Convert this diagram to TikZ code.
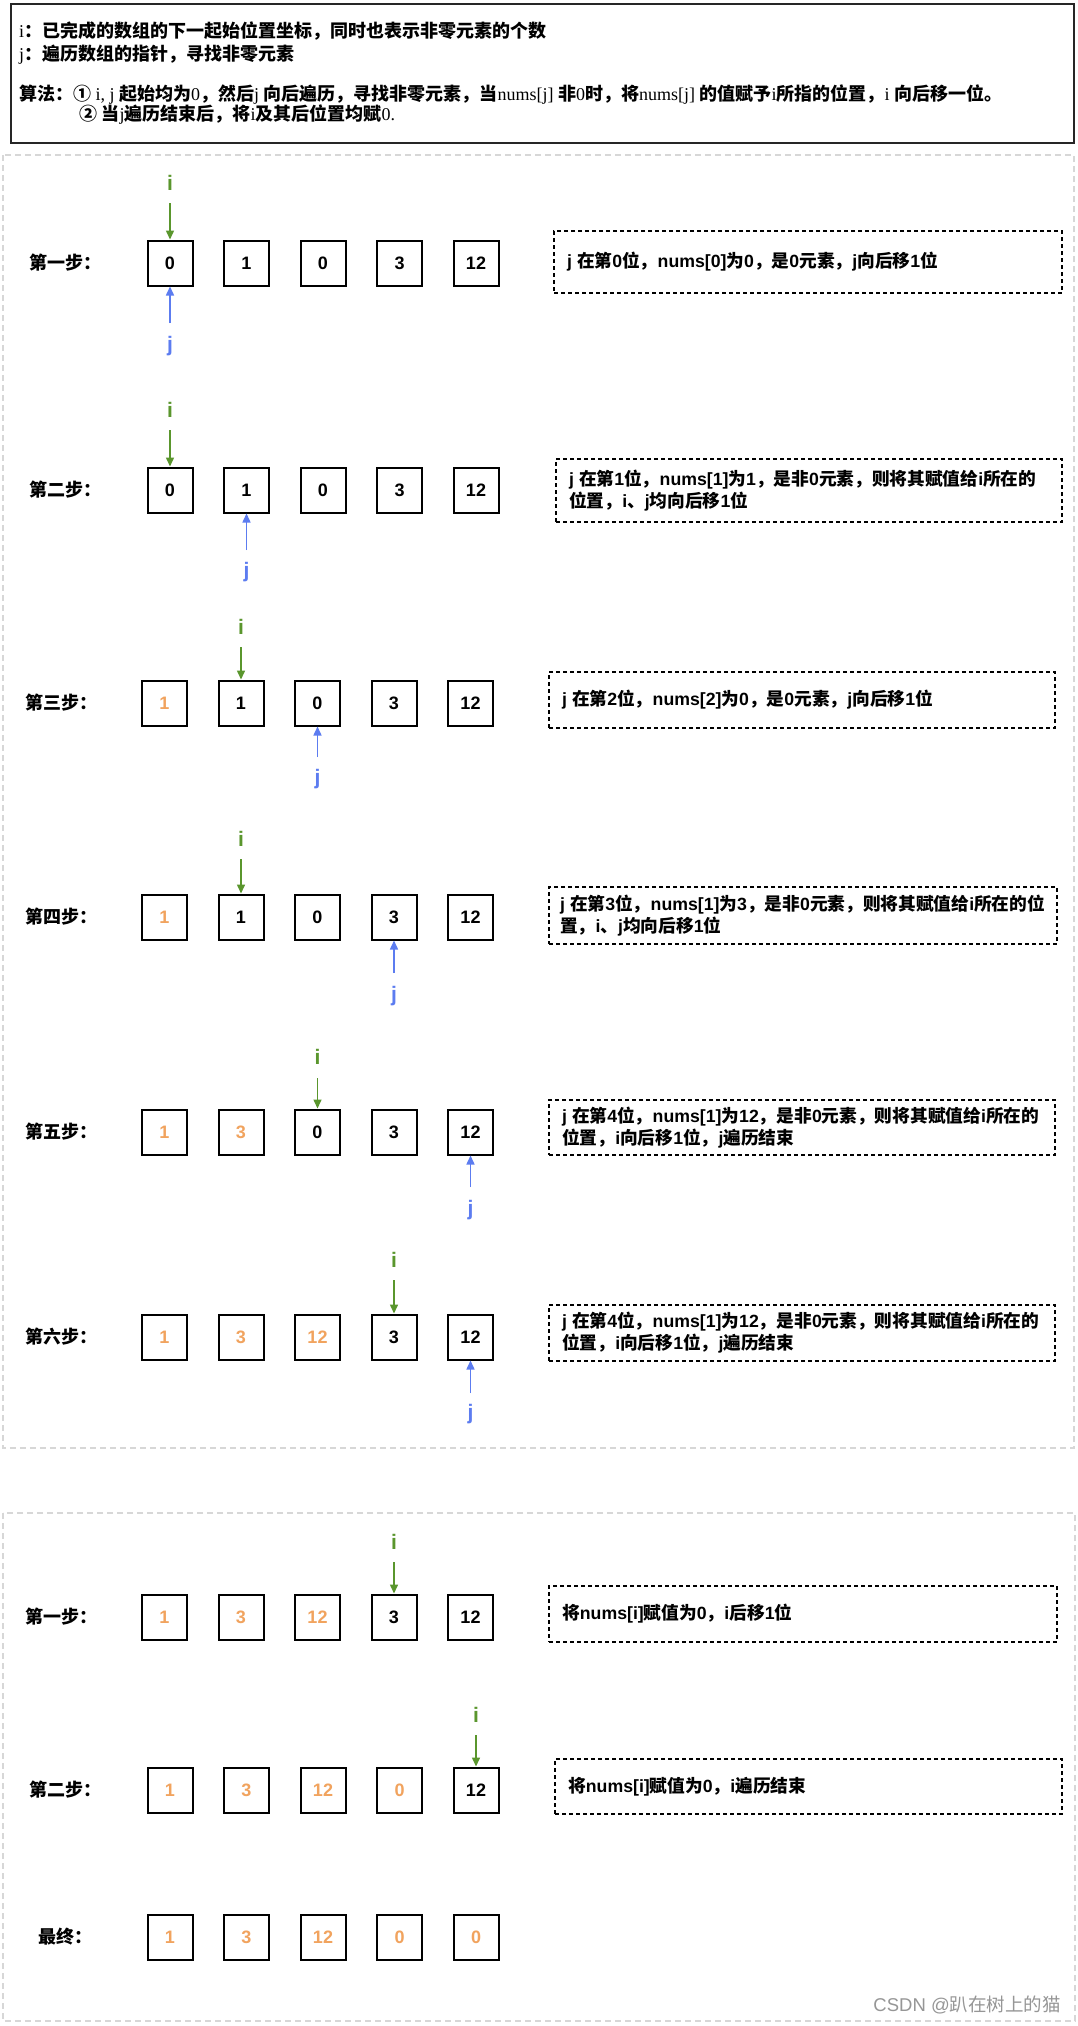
\documentclass[tikz,border=0pt]{standalone}
\usepackage{fontspec}
\setmainfont{Liberation Sans}
\newfontfamily\cjkfam{Noto Sans CJK SC}
\newfontfamily\seriffam{Liberation Serif}
\usetikzlibrary{arrows.meta,calc}
\definecolor{igreen}{RGB}{90,150,45}
\definecolor{jblue}{RGB}{92,124,240}
\definecolor{ora}{RGB}{241,163,94}
\definecolor{contgray}{RGB}{215,215,215}
\definecolor{wmgray}{RGB}{150,150,150}

% automatic font switching between Latin and CJK characters
\XeTeXinterchartokenstate=1
\newXeTeXintercharclass\CJKcls
\newcount\mycc
\mycc="2460 \loop\ifnum\mycc<"2500 \XeTeXcharclass\mycc=\CJKcls \advance\mycc by 1 \repeat
\mycc="3000 \loop\ifnum\mycc<"A000 \XeTeXcharclass\mycc=\CJKcls \advance\mycc by 1 \repeat
\mycc="FF00 \loop\ifnum\mycc<"FFF0 \XeTeXcharclass\mycc=\CJKcls \advance\mycc by 1 \repeat
\newcommand\latinsel{\rmfamily}
\newcommand\cjksel{\cjkfam}
\XeTeXinterchartoks 0 \CJKcls = {\cjksel}
\XeTeXinterchartoks 4095 \CJKcls = {\cjksel}
\XeTeXinterchartoks \CJKcls 0 = {\latinsel}
\XeTeXinterchartoks \CJKcls 4095 = {\latinsel}

\tikzset{
  valbox/.style={draw=black, line width=2pt, minimum width=45pt, minimum height=45pt,
    inner sep=0pt, font=\fontsize{18}{21.6}\selectfont\bfseries},
  ilab/.style={text=igreen, inner sep=0pt, font=\fontsize{21}{25}\selectfont\bfseries},
  jlab/.style={text=jblue, inner sep=0pt, font=\fontsize{21}{25}\selectfont\bfseries},
  iarr/.style={draw=igreen, line width=1.5pt, -{Triangle[length=9pt,width=8pt]}},
  jarr/.style={draw=jblue, line width=1.5pt, -{Triangle[length=9pt,width=8pt]}},
  steplab/.style={inner sep=0pt, font=\fontsize{18}{21.6}\selectfont\bfseries},
  descbox/.style={draw=black, line width=2pt, dash pattern=on 4pt off 3pt,
    anchor=north west, inner sep=0pt},
  desctext/.style={anchor=west, align=left, inner sep=0pt,
    font=\fontsize{17.7}{22}\selectfont\bfseries},
  container/.style={draw=contgray, line width=1.5pt, dash pattern=on 6pt off 4pt},
  topbox/.style={draw=black!85, line width=2pt, anchor=north west, inner sep=0pt},
  topline/.style={anchor=base west, inner sep=0pt,
    font=\fontsize{18}{21.6}\selectfont\seriffam\mdseries\def\latinsel{\seriffam\mdseries}\def\cjksel{\cjkfam\bfseries}},
}

% row of value boxes: name, x of first centre, y, list value/colour
\newcommand\valrow[4]{%
  \foreach \v/\c [count=\k] in {#4} {%
    \node[valbox, text=\c] (#1b\k) at ({#2+(\k-1)*76.5},#3) {\v};%
  }}
% i pointer: row, box index, label offset, arrow start offset
\newcommand\ipt[4]{%
  \node[ilab] (#1il) at ($(#1b#2.center)+(0,#3)$) {i};
  \coordinate (#1is) at ($(#1b#2.center)+(0,#4)$);
  \draw[iarr] (#1is) -- (#1b#2.north);}
\newcommand\jpt[4]{%
  \node[jlab] (#1jl) at ($(#1b#2.center)+(0,#3)$) {j};
  \coordinate (#1js) at ($(#1b#2.center)+(0,#4)$);
  \draw[jarr] (#1js) -- (#1b#2.south);}

\begin{document}
\begin{tikzpicture}[x=1pt,y=-1pt]
\fill[white] (0,0) rectangle (1077,2026);
\useasboundingbox (0,0) rectangle (1077,2026);

% ---- header box ----
\node[topbox, minimum width=1063pt, minimum height=139pt] (top) at (10,3) {};
\node[topline] (t1) at (19,38) {i：已完成的数组的下一起始位置坐标，同时也表示非零元素的个数};
\node[topline] (t2) at (19,60) {j：遍历数组的指针，寻找非零元素};
\node[topline] (t3) at (19,100) {算法：① i, j 起始均为0，然后j 向后遍历，寻找非零元素，当nums[j] 非0时，将nums[j] 的值赋予i所指的位置，i 向后移一位。};
\node[topline] (t4) at (79,120) {② 当j遍历结束后，将i及其后位置均赋0.};

% ---- containers ----
\draw[container] (3,155) rectangle (1074,1448);
\draw[container] (3,1513) rectangle (1075,2021);

% ---- step 1 ----
\node[steplab] (r1s) at (65,263) {第一步：};
\valrow{r1}{170}{263}{0/black,1/black,0/black,3/black,12/black}
\ipt{r1}{1}{-80}{-60}
\jpt{r1}{1}{83}{60}
\node[descbox, minimum width=508pt, minimum height=62pt] (r1d) at (553,230) {};
\node[desctext] (r1t) at ([xshift=14pt]r1d.west) {j 在第0位，nums[0]为0，是0元素，j向后移1位};

% ---- step 2 ----
\node[steplab] (r2s) at (65,490) {第二步：};
\valrow{r2}{170}{490}{0/black,1/black,0/black,3/black,12/black}
\ipt{r2}{1}{-80}{-60}
\jpt{r2}{2}{82}{60}
\node[descbox, minimum width=506pt, minimum height=63pt] (r2d) at (555,458) {};
\node[desctext] (r2t) at ([xshift=14pt]r2d.west) {j 在第1位，nums[1]为1，是非0元素，则将其赋值给i所在的\\位置，i、j均向后移1位};

% ---- step 3 ----
\node[steplab] (r3s) at (61,703) {第三步：};
\valrow{r3}{164.5}{703}{1/ora,1/black,0/black,3/black,12/black}
\ipt{r3}{2}{-76}{-56}
\jpt{r3}{3}{76}{54}
\node[descbox, minimum width=506pt, minimum height=56pt] (r3d) at (548,671) {};
\node[desctext] (r3t) at ([xshift=14pt]r3d.west) {j 在第2位，nums[2]为0，是0元素，j向后移1位};

% ---- step 4 ----
\node[steplab] (r4s) at (61,917) {第四步：};
\valrow{r4}{164.5}{917}{1/ora,1/black,0/black,3/black,12/black}
\ipt{r4}{2}{-78}{-58}
\jpt{r4}{4}{79}{56}
\node[descbox, minimum width=508pt, minimum height=57pt] (r4d) at (548,886) {};
\node[desctext] (r4t) at ([xshift=12pt]r4d.west) {j 在第3位，nums[1]为3，是非0元素，则将其赋值给i所在的位\\置，i、j均向后移1位};

% ---- step 5 ----
\node[steplab] (r5s) at (61,1132) {第五步：};
\valrow{r5}{164.5}{1132}{1/ora,3/ora,0/black,3/black,12/black}
\ipt{r5}{3}{-75}{-54}
\jpt{r5}{5}{78}{55}
\node[descbox, minimum width=506pt, minimum height=55pt] (r5d) at (548,1099) {};
\node[desctext] (r5t) at ([xshift=14pt]r5d.west) {j 在第4位，nums[1]为12，是非0元素，则将其赋值给i所在的\\位置，i向后移1位，j遍历结束};

% ---- step 6 ----
\node[steplab] (r6s) at (61,1337) {第六步：};
\valrow{r6}{164.5}{1337}{1/ora,3/ora,12/ora,3/black,12/black}
\ipt{r6}{4}{-77}{-57}
\jpt{r6}{5}{77}{56}
\node[descbox, minimum width=506pt, minimum height=56pt] (r6d) at (548,1304) {};
\node[desctext] (r6t) at ([xshift=14pt]r6d.west) {j 在第4位，nums[1]为12，是非0元素，则将其赋值给i所在的\\位置，i向后移1位，j遍历结束};

% ---- second part, step 1 ----
\node[steplab] (rAs) at (61,1617) {第一步：};
\valrow{rA}{164.5}{1617}{1/ora,3/ora,12/ora,3/black,12/black}
\ipt{rA}{4}{-75}{-55}
\node[descbox, minimum width=508pt, minimum height=56pt] (rAd) at (548,1585) {};
\node[desctext] (rAt) at ([xshift=14pt]rAd.west) {将nums[i]赋值为0，i后移1位};

% ---- second part, step 2 ----
\node[steplab] (rBs) at (65,1790) {第二步：};
\valrow{rB}{170}{1790}{1/ora,3/ora,12/ora,0/ora,12/black}
\ipt{rB}{5}{-75}{-55}
\node[descbox, minimum width=507pt, minimum height=55pt] (rBd) at (554,1758) {};
\node[desctext] (rBt) at ([xshift=14pt]rBd.west) {将nums[i]赋值为0，i遍历结束};

% ---- final ----
\node[steplab] (rCs) at (65,1937) {最终：};
\valrow{rC}{170}{1937}{1/ora,3/ora,12/ora,0/ora,0/ora}

% ---- watermark ----
\node[anchor=base east, inner sep=0pt, text=wmgray, font=\fontsize{18.5}{20}\selectfont] (wm) at (1061,2011) {CSDN @趴在树上的猫};
\end{tikzpicture}
\end{document}
